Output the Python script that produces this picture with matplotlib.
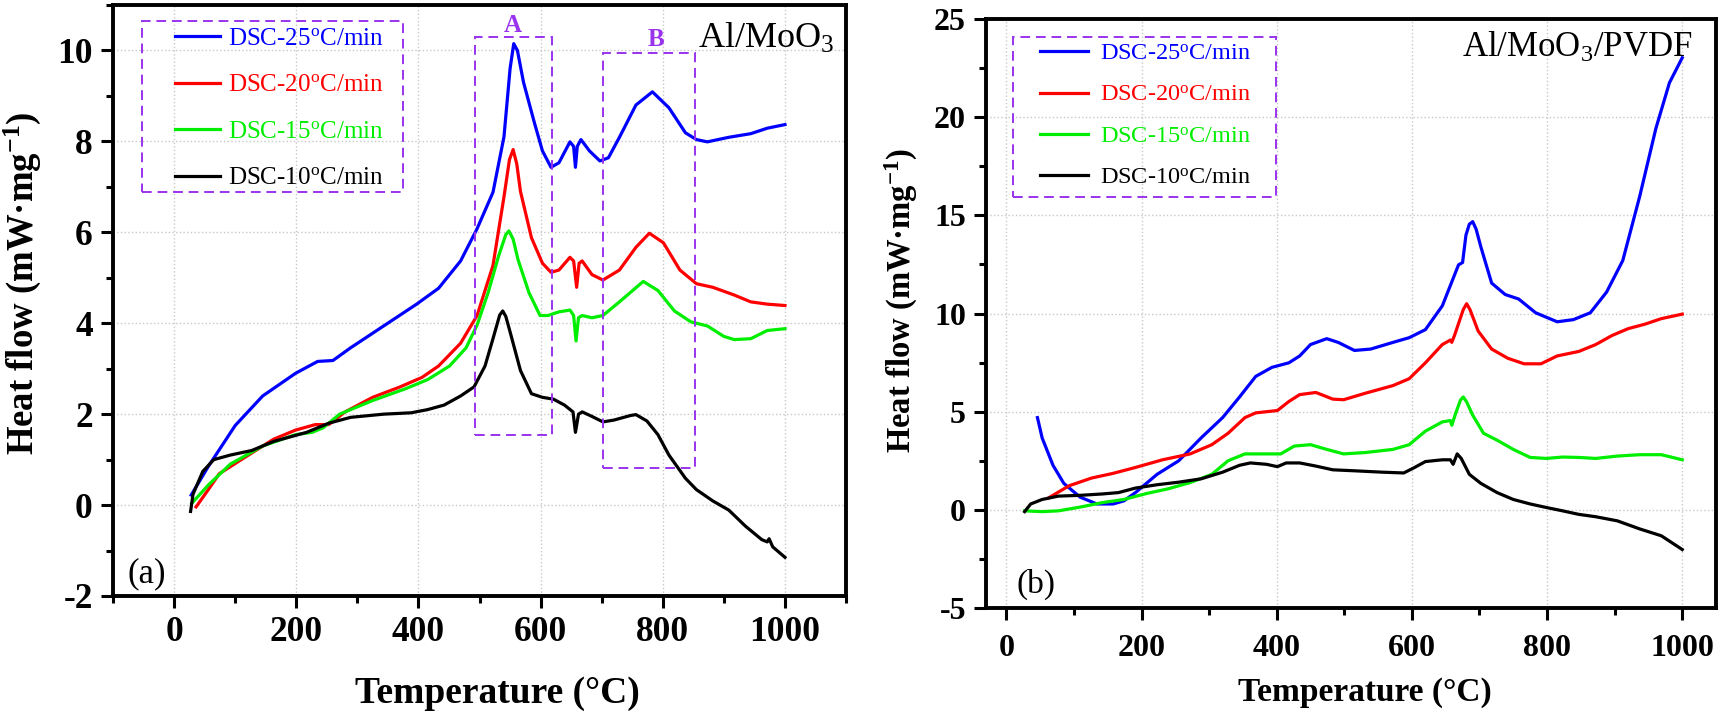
import matplotlib
matplotlib.use("Agg")
import matplotlib.pyplot as plt
from matplotlib.patches import Rectangle
from matplotlib.ticker import MultipleLocator

plt.rcParams['font.family'] = ['Liberation Serif', 'DejaVu Serif']
plt.rcParams['mathtext.fontset'] = 'custom'
plt.rcParams['mathtext.rm'] = 'Liberation Serif'
plt.rcParams['mathtext.bf'] = 'Liberation Serif:bold'
plt.rcParams['mathtext.it'] = 'Liberation Serif:italic'
plt.rcParams['axes.unicode_minus'] = False

# ---------------- Panel (a): Al/MoO3 ----------------
a25_T = [28, 56, 100, 145, 199, 235, 260, 289, 343, 397, 433, 469, 496, 522, 540, 550, 556, 562, 572, 590, 603, 617,
         630, 648, 654, 657, 660, 666, 680, 697, 711, 729, 756, 783, 810, 837, 855, 873, 908, 944, 971, 1000]
a25_H = [0.22, 0.85, 1.75, 2.4, 2.9, 3.16, 3.18, 3.46, 3.94, 4.42, 4.77, 5.37, 6.08, 6.88, 8.1, 9.6, 10.15, 10.0, 9.3, 8.4, 7.79, 7.43,
         7.53, 7.99, 7.89, 7.43, 7.89, 8.04, 7.79, 7.57, 7.64, 8.09, 8.8, 9.09, 8.74, 8.19, 8.04, 7.99, 8.09, 8.17, 8.29, 8.37]

a20_T = [36, 56, 74, 110, 163, 199, 231, 253, 280, 325, 370, 406, 433, 469, 496, 522, 540, 549, 555, 561, 567, 585, 603, 617,
         630, 648, 654, 659, 663, 668, 684, 702, 729, 756, 778, 801, 828, 855, 882, 917, 944, 971, 1000]
a20_H = [-0.04, 0.34, 0.69, 1.0, 1.45, 1.65, 1.77, 1.77, 2.05, 2.37, 2.6, 2.81, 3.06, 3.56, 4.17, 5.27, 6.78, 7.6, 7.82, 7.5, 6.9, 5.88, 5.32, 5.12,
         5.17, 5.45, 5.37, 4.79, 5.32, 5.37, 5.07, 4.95, 5.17, 5.67, 5.98, 5.77, 5.17, 4.87, 4.79, 4.62, 4.47, 4.42, 4.39]

a15_T = [29, 56, 92, 145, 199, 226, 244, 271, 325, 379, 415, 451, 478, 496, 514, 531, 543, 548, 555, 563, 581, 599, 612,
         630, 648, 654, 658, 662, 668, 684, 702, 729, 768, 792, 819, 846, 873, 900, 917, 944, 971, 1000]
a15_H = [0.04, 0.44, 0.9, 1.3, 1.55, 1.6, 1.7, 2.0, 2.3, 2.56, 2.76, 3.06, 3.46, 3.96, 4.67, 5.47, 5.95, 6.03, 5.85, 5.4, 4.67, 4.17, 4.17,
         4.25, 4.29, 4.17, 3.61, 4.12, 4.17, 4.12, 4.17, 4.47, 4.92, 4.72, 4.27, 4.03, 3.94, 3.71, 3.64, 3.66, 3.84, 3.88]

a10_T = [27, 31, 47, 65, 92, 127, 163, 217, 253, 289, 343, 388, 415, 442, 469, 491, 509, 522, 533, 538, 543, 549, 567, 585, 603,
         621, 639, 653, 657, 662, 668, 684, 702, 720, 747, 756, 774, 792, 810, 837, 855, 882, 908, 935, 962, 971, 974,
         980, 1000]
a10_H = [-0.14, 0.24, 0.74, 1.0, 1.1, 1.2, 1.4, 1.6, 1.8, 1.93, 2.0, 2.03, 2.1, 2.2, 2.4, 2.6, 3.06, 3.66, 4.18, 4.27, 4.15, 3.86, 2.96, 2.45, 2.37,
         2.33, 2.2, 2.05, 1.6, 2.0, 2.05, 1.95, 1.83, 1.87, 1.97, 1.99, 1.85, 1.55, 1.1, 0.59, 0.34, 0.09, -0.11, -0.46, -0.76, -0.81, -0.74,
         -0.92, -1.15]

# ---------------- Panel (b): Al/MoO3/PVDF ----------------
b25_T = [46, 53, 69, 85, 109, 134, 158, 174, 191, 223, 255, 288, 320, 345, 369, 393, 418, 434, 450, 474, 491, 515, 539,
         572, 596, 620, 645, 669, 675, 680, 685, 690, 695, 702, 718, 738, 758, 783, 815, 839, 864, 888, 912, 937, 961, 981, 1000]
b25_H = [4.7, 3.66, 2.27, 1.35, 0.65, 0.3, 0.3, 0.46, 0.88, 1.81, 2.5, 3.66, 4.7, 5.75, 6.8, 7.26, 7.49, 7.84, 8.42, 8.72, 8.53, 8.12, 8.19,
         8.53, 8.77, 9.18, 10.39, 12.48, 12.6, 14.0, 14.55, 14.68, 14.3, 13.4, 11.55, 10.97, 10.74, 10.04, 9.58, 9.69, 10.04, 11.09, 12.7, 15.96,
         19.43, 21.75, 23.03]

b20_T = [62, 93, 126, 158, 191, 231, 272, 304, 328, 353, 369, 401, 418, 434, 458, 483, 499, 531, 572, 596, 620, 645, 657,
         659, 663, 676, 681, 686, 698, 718, 742, 766, 791, 815, 847, 872, 896, 920, 945, 969, 1000]
b20_H = [0.6, 1.23, 1.62, 1.86, 2.16, 2.55, 2.85, 3.32, 3.9, 4.7, 4.94, 5.06, 5.52, 5.87, 5.98, 5.64, 5.61, 5.94, 6.33, 6.68, 7.49, 8.42, 8.65,
         8.53, 8.88, 10.2, 10.5, 10.2, 9.11, 8.19, 7.72, 7.44, 7.44, 7.84, 8.07, 8.42, 8.88, 9.23, 9.46, 9.74, 9.97]

b15_T = [27, 53, 77, 109, 142, 174, 207, 239, 272, 304, 328, 353, 385, 406, 426, 450, 474, 499, 531, 572, 596, 620, 645,
         657, 659, 665, 672, 676, 681, 690, 706, 726, 750, 775, 799, 823, 847, 872, 904, 937, 969, 1000]
b15_H = [-0.05, -0.09, -0.05, 0.14, 0.37, 0.53, 0.83, 1.07, 1.39, 1.81, 2.5, 2.85, 2.85, 2.85, 3.25, 3.32, 3.08, 2.85, 2.92, 3.08, 3.32, 4.01, 4.48,
         4.55, 4.31, 4.94, 5.6, 5.75, 5.5, 4.82, 3.9, 3.55, 3.08, 2.67, 2.62, 2.69, 2.67, 2.62, 2.74, 2.81, 2.81, 2.55]

b10_T = [27, 36, 53, 77, 109, 142, 166, 191, 223, 255, 288, 320, 345, 361, 385, 401, 414, 434, 458, 483, 515, 556, 588,
         604, 620, 645, 657, 661, 667, 673, 685, 702, 726, 750, 775, 799, 823, 847, 872, 904, 937, 969, 1000]
b10_H = [-0.09, 0.3, 0.53, 0.7, 0.74, 0.81, 0.88, 1.11, 1.28, 1.41, 1.58, 1.92, 2.27, 2.39, 2.32, 2.2, 2.39, 2.39, 2.23, 2.04, 1.99, 1.92, 1.88,
         2.16, 2.46, 2.55, 2.55, 2.32, 2.85, 2.62, 1.81, 1.35, 0.88, 0.53, 0.3, 0.12, -0.05, -0.23, -0.35, -0.56, -0.97, -1.32, -2.02]

labels = ['DSC-25$\\mathrm{^o}$C/min', 'DSC-20$\\mathrm{^o}$C/min',
          'DSC-15$\\mathrm{^o}$C/min', 'DSC-10$\\mathrm{^o}$C/min']
colors = ['#0000ff', '#ff0000', '#00ee00', '#000000']
purple = '#9933ee'

fig = plt.figure(figsize=(17.2, 7.16), dpi=100)
axA = fig.add_axes([0.0657, 0.1676, 0.4262, 0.8254])
axB = fig.add_axes([0.5733, 0.1508, 0.4244, 0.8226])


def style(ax, xlim, ylim, ymaj, ymin, tfs, xpad):
    ax.set_xlim(*xlim)
    ax.set_ylim(*ylim)
    ax.xaxis.set_major_locator(MultipleLocator(200))
    ax.xaxis.set_minor_locator(MultipleLocator(100))
    ax.yaxis.set_major_locator(MultipleLocator(ymaj))
    ax.yaxis.set_minor_locator(MultipleLocator(ymin))
    for s in ax.spines.values():
        s.set_linewidth(2.8)
    ax.tick_params(which='major', direction='out', length=8.5, width=2.2, labelsize=tfs, pad=6)
    ax.tick_params(axis='x', which='major', pad=xpad)
    ax.tick_params(which='minor', direction='out', length=5, width=2.2)
    for lab in ax.get_xticklabels() + ax.get_yticklabels():
        lab.set_fontweight('bold')
    ax.grid(True, which='major', linestyle=':', color='#c8c8c8', linewidth=1.0)
    ax.set_axisbelow(True)


# ---- panel a ----
style(axA, (-100, 1100), (-2, 11), 2, 1, 25.5, 6)
for T, H, c, l in zip([a25_T, a20_T, a15_T, a10_T], [a25_H, a20_H, a15_H, a10_H], colors, labels):
    axA.plot(T, H, color=c, lw=2.3, label=l)
axA.set_xlabel('Temperature (°C)', fontsize=27, fontweight='bold')
axA.set_ylabel('Heat flow (mW·mg$^{\\mathbf{-1}}$)', fontsize=26.5, fontweight='bold')
axA.xaxis.set_label_coords(0.525, -0.136)
axA.yaxis.set_label_coords(-0.096, 0.529)

legA = axA.legend(loc='upper left', bbox_to_anchor=(0.085, 0.962), frameon=False, fontsize=18,
                  handlelength=1.8, handletextpad=0.32, labelspacing=0.96, borderaxespad=0, borderpad=0,
                  labelcolor='linecolor')
axA.add_patch(Rectangle((0.039, 0.6829), 0.356, 0.2905, transform=axA.transAxes, fill=False,
                        edgecolor=purple, linestyle=(0, (5, 3)), lw=1.4, zorder=5))
axA.add_patch(Rectangle((492, 1.55), 127, 8.75, fill=False, edgecolor=purple,
                        linestyle=(0, (5, 3)), lw=1.4, zorder=5))
axA.add_patch(Rectangle((702, 0.82), 151, 9.13, fill=False, edgecolor=purple,
                        linestyle=(0, (5, 3)), lw=1.4, zorder=5))
axA.text(555, 10.3, 'A', color=purple, fontsize=18, fontweight='bold', ha='center', va='bottom')
axA.text(789, 9.98, 'B', color=purple, fontsize=18, fontweight='bold', ha='center', va='bottom')
axA.text(0.798, 0.943, 'Al/MoO$\\mathrm{_3}$', transform=axA.transAxes, fontsize=26, ha='left', va='center')
axA.text(0.02, 0.038, '(a)', transform=axA.transAxes, fontsize=25, ha='left', va='center')

# ---- panel b ----
style(axB, (-30, 1050), (-5, 25), 5, 2.5, 23, 10)
for T, H, c, l in zip([b25_T, b20_T, b15_T, b10_T], [b25_H, b20_H, b15_H, b10_H], colors, labels):
    axB.plot(T, H, color=c, lw=2.3, label=l)
axB.set_xlabel('Temperature (°C)', fontsize=24, fontweight='bold')
axB.set_ylabel('Heat flow (mW·mg$^{\\mathbf{-1}}$)', fontsize=23.5, fontweight='bold')
axB.xaxis.set_label_coords(0.519, -0.117)
axB.yaxis.set_label_coords(-0.091, 0.523)

legB = axB.legend(loc='upper left', bbox_to_anchor=(0.074, 0.96), frameon=False, fontsize=17.5,
                  handlelength=1.97, handletextpad=0.5, labelspacing=0.8, borderaxespad=0, borderpad=0,
                  labelcolor='linecolor')
axB.add_patch(Rectangle((0.0366, 0.6978), 0.3603, 0.2716, transform=axB.transAxes, fill=False,
                        edgecolor=purple, linestyle=(0, (5, 3)), lw=1.4, zorder=5))
axB.text(0.968, 0.951, 'Al/MoO$\\mathrm{_3}$/PVDF', transform=axB.transAxes, fontsize=25, ha='right', va='center')
axB.text(0.042, 0.04, '(b)', transform=axB.transAxes, fontsize=24, ha='left', va='center')

fig.savefig('out.png', dpi=100)
